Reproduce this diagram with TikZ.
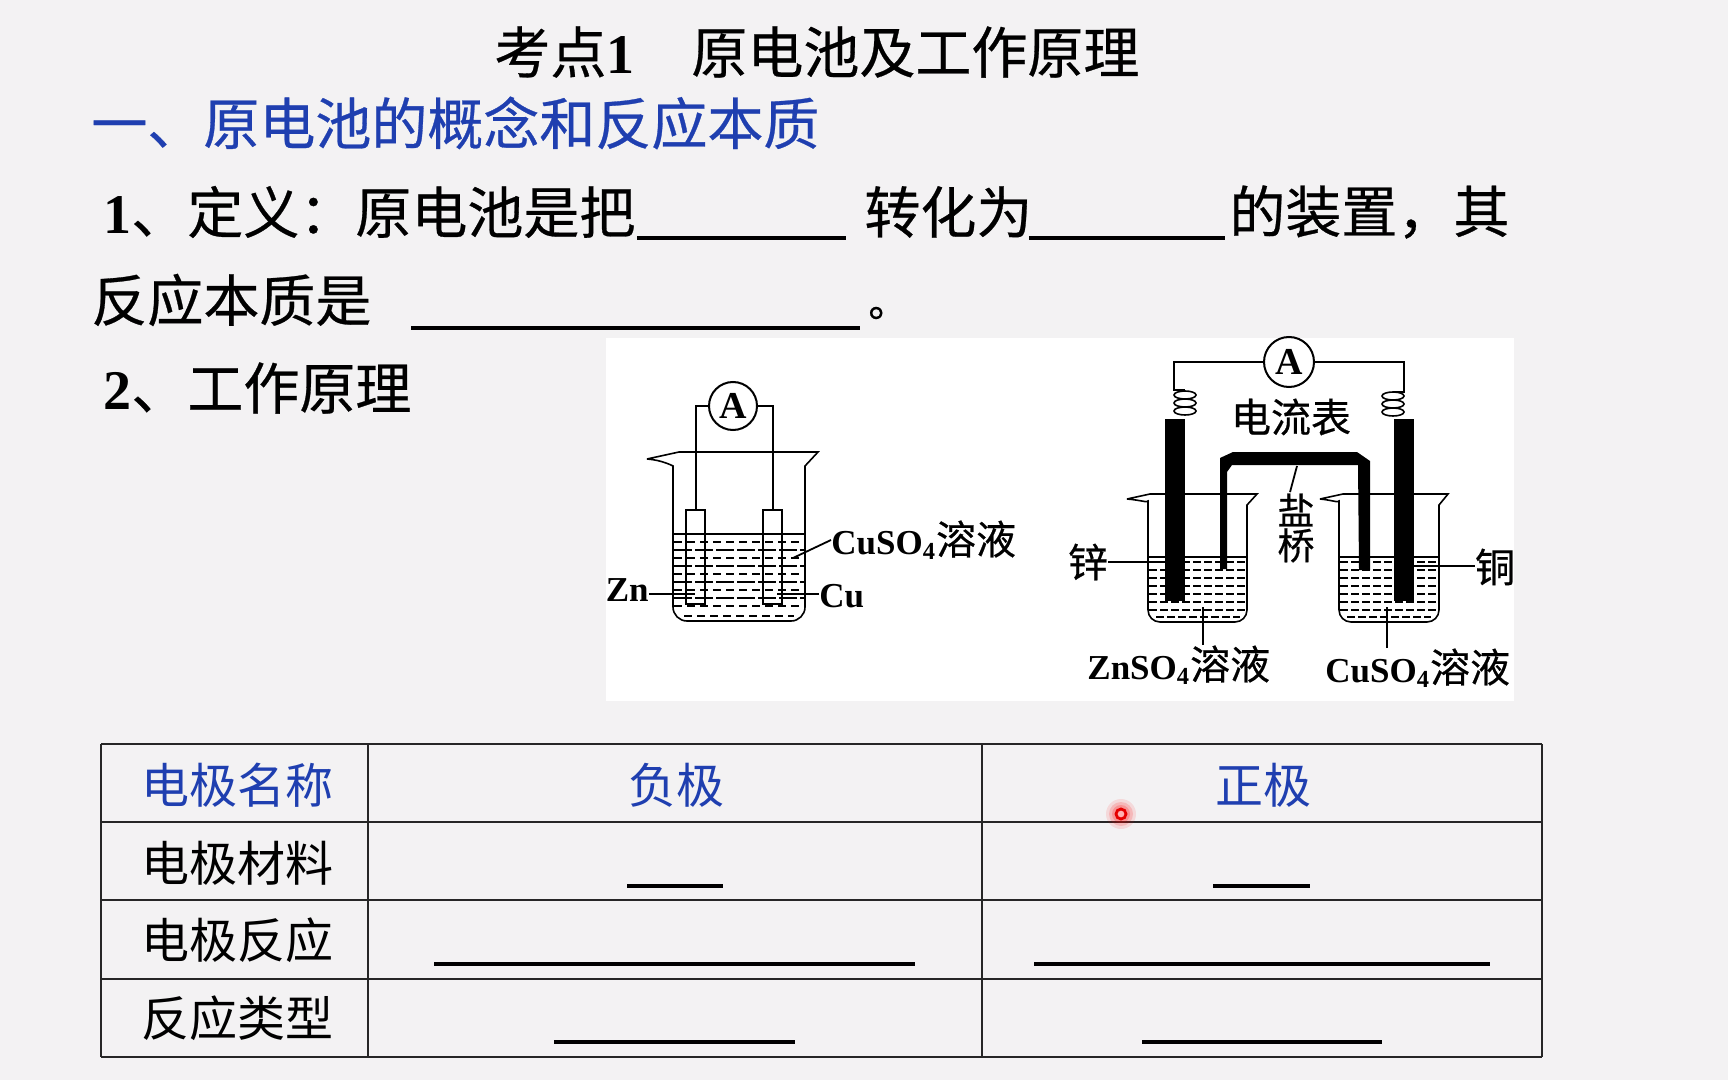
\documentclass[tikz,border=0pt]{standalone}
\usepackage{fontspec}
\usepackage{xcolor}
\setmainfont{Liberation Serif}
\newfontfamily\cjk{Noto Sans CJK SC}
\newfontfamily\cjkheavy[FakeBold=0.5]{Noto Sans CJK SC}
\newcommand{\sollabel}{\cjkheavy\mdseries\fontsize{20}{20}\selectfont 溶液}
\usetikzlibrary{positioning,calc}
\definecolor{slidebg}{HTML}{F3F2F3}
\definecolor{headblue}{HTML}{1F3FB0}

\begin{document}
\begin{tikzpicture}[
    x=0.5pt, y=-0.5pt,
    textline/.style={anchor=west, inner sep=0pt, font=\cjkheavy\fontsize{28}{28}\selectfont},
    headline/.style={textline, text=headblue},
    cell/.style={inner sep=0pt, font=\cjk\fontsize{24}{24}\selectfont},
    headcell/.style={cell, text=headblue},
    label/.style={inner sep=0pt, font=\rmfamily\bfseries\fontsize{17.5}{18}\selectfont},
    cjklabel/.style={inner sep=0pt, font=\cjkheavy\fontsize{20}{20}\selectfont},
    grid/.style={line width=1.1pt, draw=black!85},
    blank/.style={line width=1.6pt},
    glass/.style={line width=0.8pt},
    wire/.style={line width=1pt},
    lead/.style={line width=0.9pt},
    hatch/.style={line width=0.8pt, dash pattern=on 4pt off 2.5pt},
    metre/.style={circle, draw, line width=1pt, fill=white, minimum size=24pt, inner sep=0pt, font=\rmfamily\bfseries\fontsize{19}{19}\selectfont},
    rod/.style={draw, line width=1pt, minimum width=9.5pt, minimum height=47pt, inner sep=0pt},
    plate/.style={fill=black, minimum width=10pt, minimum height=91pt, inner sep=0pt},
    coil/.style={line width=0.8pt}
]
    \useasboundingbox (0,0) rectangle (1728,1080);
    \fill[slidebg] (0,0) rectangle (1728,1080);
    \fill[white] (606,338) rectangle (1514,701);

    \node[textline] (title1) at (494,52) {考点{\rmfamily\bfseries 1}};
    \node[textline] (title2) at (691,52) {原电池及工作原理};
    \node[headline] (head) at (91,123) {一、原电池的概念和反应本质};
    \node[textline] (def1) at (103,212) {{\rmfamily\bfseries 1}、定义：原电池是把};
    \node[textline] (def2) at (864,212) {转化为};
    \node[textline] (def3) at (1229,212) {的装置，其};
    \node[textline] (essence) at (91,300) {反应本质是};
    \node[textline, font=\cjkheavy\fontsize{20}{20}\selectfont] (stop) at (868,313) {。};
    \node[textline] (work) at (103,388) {{\rmfamily\bfseries 2}、工作原理};
    \draw[blank] (637,238) -- (846,238);
    \draw[blank] (1029,238) -- (1225,238);
    \draw[blank, line width=2pt] (411,328) -- (860,328);

    % single cell
    \draw[glass] (647,459) -- (679,452) -- (818,452) -- (805,466) [rounded corners=7pt] -- (805,621) -- (673,621) -- (673,480) [sharp corners] .. controls (673,466) and (662,460) .. (647,459);
    \draw[glass] (673,534) -- (805,534);
    \foreach \y in {542,558,574,590,606} {
        \draw[hatch] (674,\y) -- (804,\y);
    }
    \foreach \y in {550,566,582,598} {
        \draw[hatch, dash pattern=on 9pt off 1.5pt] (674,\y) -- (804,\y);
    }
    \draw[hatch] (684,616) -- (794,616);
    \node[metre] (amp1) at (733,406) {A};
    \node[rod] (zn1) at (695.5,557) {};
    \node[rod] (cu1) at (772.5,557) {};
    \draw[wire] (amp1.west) -| (zn1.north);
    \draw[wire] (amp1.east) -| (cu1.north);
    \node[label, anchor=east] (znlab) at (649,590) {Zn};
    \node[label, anchor=west] (culab) at (819,596) {Cu};
    \node[label, anchor=west] (sol1) at (831,540) {CuSO\textsubscript{4}{\sollabel}};
    \coordinate (znend) at (695,594);
    \coordinate (cuend) at (777,594);
    \coordinate (solend) at (793,558);
    \draw[lead] (znlab.east |- znend) -- (znend);
    \draw[lead] (culab.west |- cuend) -- (cuend);
    \draw[lead] (sol1.west) -- (solend);

    % cell with bridge
    \draw[glass] (1127,499) -- (1150,494) -- (1257,494) -- (1247,505) [rounded corners=6pt] -- (1247,622) -- (1148,622) -- (1148,513) [sharp corners] .. controls (1148,503) and (1140,500) .. (1127,499);
    \draw[glass] (1320,499) -- (1343,494) -- (1448,494) -- (1439,505) [rounded corners=6pt] -- (1439,622) -- (1339,622) -- (1339,513) [sharp corners] .. controls (1339,503) and (1331,500) .. (1320,499);
    \draw[glass] (1148,557) -- (1247,557);
    \draw[glass] (1339,557) -- (1439,557);
    \foreach \y in {562,570,...,610} {
        \draw[hatch, dash pattern=on 4pt off 1.5pt] (1149,\y) -- (1246,\y);
        \draw[hatch, dash pattern=on 4pt off 1.5pt] (1340,\y) -- (1438,\y);
    }
    \draw[hatch, dash pattern=on 4pt off 1.5pt] (1156,617) -- (1240,617);
    \draw[hatch, dash pattern=on 4pt off 1.5pt] (1347,617) -- (1431,617);

    \node[metre, minimum size=25pt] (amp2) at (1289,362) {A};
    \node[plate] (zn2) at (1175,510) {};
    \node[plate] (cu2) at (1403.5,510) {};
    \coordinate (coilz) at (1185,390);
    \coordinate (coilc) at (1393,392);
    \draw[wire] (amp2.west) -| (1174,390) -- (coilz);
    \draw[wire] (amp2.east) -| (1404,392) -- (coilc);
    \foreach \y in {395,403,411} {
        \draw[coil] (1185,\y) ellipse (11 and 4);
        \draw[coil] (1393,\y+1) ellipse (11 and 4);
    }
    \fill (1220,569) -- (1220,458) -- (1233,452) -- (1357,452) -- (1370,461) -- (1370,570) -- (1359,570) -- (1358,465) -- (1232,465) -- (1227,472) -- (1227,569) -- cycle;

    \node[cjklabel] (metrename) at (1291,417) {电流表};
    \node[cjklabel, font=\cjkheavy\fontsize{18.5}{19}\selectfont] (salt) at (1296,510) {盐};
    \node[cjklabel, font=\cjkheavy\fontsize{18.5}{19}\selectfont, below=0.5pt of salt] (bridge) {桥};
    \node[cjklabel] (zinc) at (1088,562) {锌};
    \node[cjklabel] (copper) at (1495,567) {铜};
    \node[label, anchor=west] (sol2) at (1087,665) {ZnSO\textsubscript{4}{\sollabel}};
    \node[label, anchor=west] (sol3) at (1325,668) {CuSO\textsubscript{4}{\sollabel}};
    \coordinate (zincend) at (1165,562);
    \coordinate (copperend) at (1413,566);
    \coordinate (bridgeend) at (1297,466);
    \coordinate (saltend) at ($(salt.north)+(-6,-1)$);
    \coordinate (sol2end) at (1203,607);
    \coordinate (sol3end) at (1387,607);
    \draw[lead] (zinc.east) -- (zincend);
    \draw[lead] (copper.west |- copperend) -- (copperend);
    \draw[lead] (saltend) -- (bridgeend);
    \draw[lead] (sol2end |- sol2.north) -- (sol2end);
    \draw[lead] (sol3end |- sol3.north) -- (sol3end);

    % table
    \foreach \y in {744,822,900,979,1057} {
        \draw[grid] (101,\y) -- (1542,\y);
    }
    \foreach \x in {101,368,982,1542} {
        \draw[grid] (\x,744) -- (\x,1057);
    }
    \node[headcell] (name) at (237,785) {电极名称};
    \node[headcell] (neg) at (676,785) {负极};
    \node[headcell] (pos) at (1263,785) {正极};
    \node[cell] (material) at (237,863) {电极材料};
    \node[cell] (reaction) at (237,940) {电极反应};
    \node[cell] (kind) at (237,1018) {反应类型};
    \draw[blank] (627,886) -- (723,886);
    \draw[blank] (1213,886) -- (1310,886);
    \draw[blank] (434,964) -- (915,964);
    \draw[blank] (1034,964) -- (1490,964);
    \draw[blank] (554,1042) -- (795,1042);
    \draw[blank] (1142,1042) -- (1382,1042);

    \foreach \r/\o in {15/0.10, 12/0.15, 9/0.2} {
        \fill[red, opacity=\o] (1121,814) circle (\r);
    }
    \draw[red!90!black, line width=1.4pt, fill=white!70!red] (1121,814) circle (5);
\end{tikzpicture}
\end{document}
